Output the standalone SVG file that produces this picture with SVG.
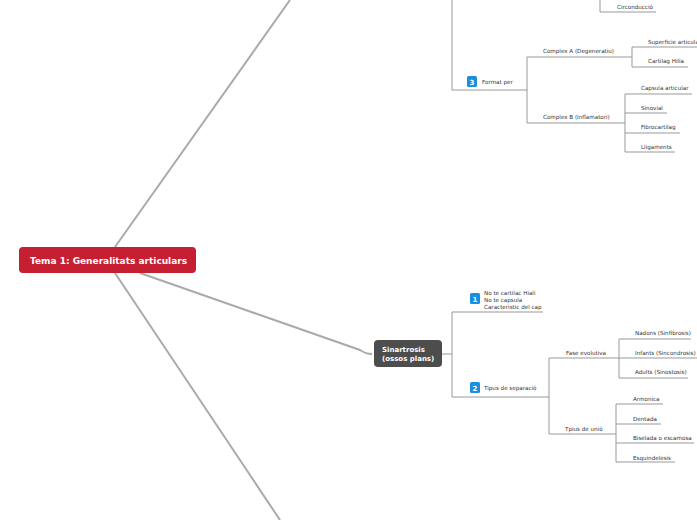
<svg xmlns="http://www.w3.org/2000/svg" width="697" height="520" viewBox="0 0 697 520">
<style>
.t{font-family:"DejaVu Sans",sans-serif;font-size:5.6px;fill:#333}
.l{stroke:#999;stroke-width:1;fill:none}
.m{stroke:#aaa;stroke-width:2;fill:none}
.bd{fill:#1a8fe0}
.bt{font-family:"DejaVu Sans",sans-serif;font-size:7px;font-weight:bold;fill:#fff}
</style>
<rect width="697" height="520" fill="#fff"/>
<g id="connectors">
<path class="m" d="M115 247 L290 0"/>
<path class="m" d="M115 273 L280 520"/>
<path class="m" d="M140 273 L360 350 Q366 354 372 354" stroke-width="1.5"/>
<path class="l" d="M442 354 H452 M452 312 V397 M452 312 H543 M452 397 H549"/>
<path class="l" d="M549 358 V434 M549 358 H609 M549 434 H607 M609 358 H619 M619 339 V378 M619 339 H691 M619 358 H697 M619 378 H688"/>
<path class="l" d="M607 434 H616 M616 404 V462 M616 404 H663 M616 424 H661 M616 443 H694 M616 462 H675"/>
<path class="l" d="M452 0 V90 H527 M527 57 V123 M527 57 H631 M527 123 H624 M631 57 H632 M632 47 V67 M632 47 H697 M632 67 H688"/>
<path class="l" d="M624 123 H625 M625 94 V152 M625 94 H692 M625 113 H667 M625 133 H680 M625 152 H675"/>
<path class="l" d="M600 0 V12 H656"/>
</g>
<g id="central"><rect x="19" y="247" width="177" height="26" rx="4" fill="#c61f32"/><text x="30" y="264" font-family="DejaVu Sans,sans-serif" font-size="9" font-weight="bold" fill="#fff">Tema 1: Generalitats articulars</text></g>
<g id="sinartrosis"><rect x="374" y="340" width="68" height="27" rx="4" fill="#4d4d4d"/><text x="382" y="352" class="bt">Sinartrosis</text><text x="382" y="361" class="bt">(ossos plans)</text></g>
<g id="n1"><rect class="bd" x="470" y="293" width="10" height="11" rx="1.5"/><text x="475" y="302" font-family="DejaVu Sans,sans-serif" font-size="7" font-weight="bold" fill="#fff" text-anchor="middle">1</text><text class="t" x="484" y="295">No te cartilac Hiali</text><text class="t" x="484" y="302">No te capsula</text><text class="t" x="484" y="309">Caracteristic del cap</text></g>
<g id="n2"><rect class="bd" x="470" y="382" width="10" height="11" rx="1.5"/><text x="475" y="391" font-family="DejaVu Sans,sans-serif" font-size="7" font-weight="bold" fill="#fff" text-anchor="middle">2</text><text class="t" x="484" y="390">Tipus de separació</text></g>
<g id="fase"><text class="t" x="566" y="355">Fase evolutiva</text></g>
<g id="unio"><text class="t" x="565" y="431">Tpius de unió</text></g>
<g id="nadons"><text class="t" x="635" y="335">Nadons (Sinfibrosis)</text></g>
<g id="infants"><text class="t" x="635" y="355">Infants (Sincondrosis)</text></g>
<g id="adults"><text class="t" x="635" y="374">Adults (Sinostosis)</text></g>
<g id="armonica"><text class="t" x="633" y="401">Armonica</text></g>
<g id="dentada"><text class="t" x="633" y="421">Dentada</text></g>
<g id="biselada"><text class="t" x="633" y="440">Biselada o escamosa</text></g>
<g id="esquin"><text class="t" x="633" y="460">Esquindelesis</text></g>
<g id="n3"><rect class="bd" x="467" y="76" width="10" height="11" rx="1.5"/><text x="472" y="85" font-family="DejaVu Sans,sans-serif" font-size="7" font-weight="bold" fill="#fff" text-anchor="middle">3</text><text class="t" x="482" y="84">Format per</text></g>
<g id="ca"><text class="t" x="543" y="53">Complex A (Degeneratiu)</text></g>
<g id="cb"><text class="t" x="543" y="119">Complex B (Inflamatori)</text></g>
<g id="sup"><text class="t" x="648" y="44">Superficie articula</text></g>
<g id="cart"><text class="t" x="648" y="63">Cartilag Hilia</text></g>
<g id="caps"><text class="t" x="641" y="90">Capsula articular</text></g>
<g id="sino"><text class="t" x="641" y="110">Sinovial</text></g>
<g id="fibro"><text class="t" x="641" y="129">Fibrocartilag</text></g>
<g id="lig"><text class="t" x="641" y="149">Lligaments</text></g>
<g id="circ"><text class="t" x="617" y="9">Circonducció</text></g>
</svg>
